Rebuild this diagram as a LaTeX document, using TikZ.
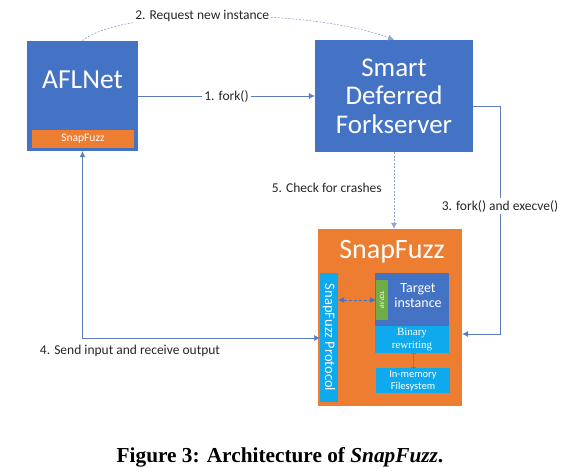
\documentclass[tikz,border=0pt]{standalone}
\usepackage{fontspec}
\setmainfont{Carlito}
\newfontfamily\capfont{Liberation Serif}
\newfontfamily\rwfont{Liberation Serif}
\usetikzlibrary{arrows.meta}
\definecolor{boxblue}{HTML}{4472C4}
\definecolor{boxorange}{HTML}{ED7D31}
\definecolor{boxcyan}{HTML}{0FAAEE}
\definecolor{boxgreen}{HTML}{70AD47}
\definecolor{linkblue}{HTML}{5B7DC0}
\definecolor{dashblue}{HTML}{8FA6D4}
\definecolor{txtgray}{HTML}{262626}

\begin{document}
\begin{tikzpicture} [x=1pt,y=-1pt,
		blk/.style={draw=none,minimum width=#1,inner sep=0pt,text=white},
		conn/.style={linkblue,line width=0.6pt,-{Latex[length=6pt,width=6pt]}},
		dconn/.style={dashblue,line width=0.6pt,dashed,dash pattern=on 2pt off 1.5pt,-{Latex[length=6pt,width=6pt]}},
		lbl/.style={text=txtgray,font=\fontsize{13.5}{15}\selectfont,inner sep=2pt}]
			\useasboundingbox (0,0) rectangle (567,474);
			
			\node[blk=111pt,minimum height=110pt,fill=boxblue] (afl) at (82.5,96) {};
			\node[text=white,font=\fontsize{27.5}{30}\selectfont] (afltxt) at (82.5,80) {AFLNet};
			\node[blk=102pt,minimum height=18pt,fill=boxorange,font=\fontsize{11.5}{13}\selectfont] (aflsf) at (83,139) {SnapFuzz};
			
			\node[blk=158pt,minimum height=112pt,fill=boxblue,align=center,font=\fontsize{27}{28.5}\selectfont] (fork) at (394,96) {Smart\\Deferred\\Forkserver};
			
			\node[blk=144pt,minimum height=177pt,fill=boxorange] (snap) at (390,317.5) {};
			\node[text=white,font=\fontsize{28}{30}\selectfont] (snaptxt) at (392,252) {SnapFuzz};
			\node[blk=129pt,minimum height=18pt,fill=boxcyan,rotate=-90,font=\fontsize{14.5}{16}\selectfont] (proto) at (329,337.5) {SnapFuzz Protocol};
			\node[blk=74pt,minimum height=53pt,fill=boxblue] (target) at (412,299.5) {};
			\node[text=white,align=center,font=\fontsize{14}{15}\selectfont] (targettxt) at (418,296) {Target\\instance};
			\node[blk=40pt,minimum height=12pt,fill=boxgreen,rotate=-90,font=\fontsize{6.5}{7}\selectfont] (tcp) at (382,300) {TCP/IP};
			\node[blk=74pt,minimum height=27pt,fill=boxcyan,align=center,font=\rwfont\fontsize{11}{12.5}\selectfont] (binary) at (412,339.5) {Binary\\rewriting};
			\node[blk=74pt,minimum height=25pt,fill=boxcyan,align=center,font=\fontsize{10.5}{12}\selectfont] (inmem) at (413,380.5) {In-memory\\Filesystem};
			
			\draw[conn] (afl.east) -- node[lbl,fill=white] {1. fork()} (fork.west);
			\draw[dconn] (afl.north) .. controls (120,8) and (310,8) .. node[lbl,fill=white,pos=0.45] {2. Request new instance} (fork.north);
			\coordinate (r3) at (500,334);
			\draw[conn] ([yshift=-10pt]fork.east) -| node[lbl,fill=white,pos=0.72] {3. fork() and execve()} (r3) -- (r3 -| snap.east);
			\draw[conn,{Latex[length=6pt,width=6pt]}-{Latex[length=6pt,width=6pt]}] (afl.south) |- node[lbl,below,pos=0.6,yshift=-5pt] {4. Send input and receive output} ([xshift=-9pt]proto.center |- 0,338);
			\draw[dconn] (fork.south) -- node[lbl,left,pos=0.47,xshift=-10pt] {5. Check for crashes} (fork.south |- snap.north);
			\draw[boxblue,line width=0.8pt,dash pattern=on 3pt off 2pt,{Latex[length=6pt,width=6pt]}-{Latex[length=6pt,width=6pt]}] ([xshift=9pt]proto.center |- tcp) -- ([xshift=-6pt]tcp.center);
			\draw[linkblue,line width=0.6pt,{Bar[width=5pt]}-{Bar[width=5pt]}] ([xshift=1pt]binary.south) -- (inmem.north);
			
			\node[font=\capfont\bfseries\fontsize{21.3}{24}\selectfont] (caption) at (280,457) {Figure 3: Architecture of \textit{SnapFuzz}.};
			\end{tikzpicture}
\end{document}
